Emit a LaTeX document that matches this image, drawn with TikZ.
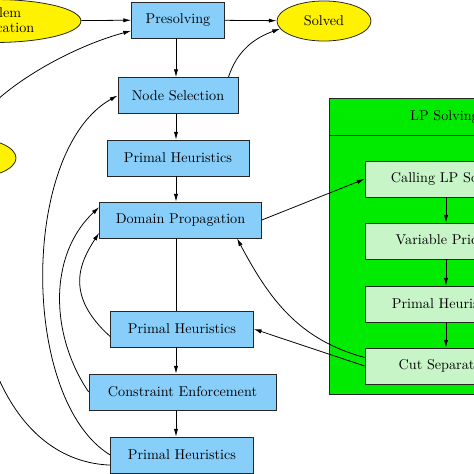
\documentclass[tikz,border=0pt]{standalone}
\usepackage{tikz}
\usetikzlibrary{arrows.meta,shapes.geometric}

\definecolor{boxblue}{RGB}{135,206,250}
\definecolor{lpgreen}{RGB}{0,235,0}
\definecolor{lplight}{RGB}{200,245,200}

\tikzset{
	block/.style={rectangle,draw=black!85,fill=boxblue,line width=0.55pt,minimum height=25.3pt,inner sep=2pt},
	lpblock/.style={rectangle,draw=black!85,fill=lplight,line width=0.55pt,minimum height=25.3pt,minimum width=114pt,inner sep=2pt},
	oval/.style={ellipse,draw=black!85,fill=yellow,line width=0.55pt,minimum width=66.2pt,minimum height=28.2pt,inner sep=1pt},
	flow/.style={-{Latex[length=5.5pt,width=3pt]},line width=0.55pt}
}

\begin{document}
\begin{tikzpicture}[x=0.704pt,y=0.704pt]
			\path [use as bounding box,fill=white] (0,0) rectangle (474,-474);
			\clip (0,0) rectangle (474,-474);
			
			% LP solving frame
			\draw [fill=lpgreen,draw=black!85,line width=0.55pt] (329,-98) rectangle (560,-394);
			\draw [black!85,line width=0.55pt] (329,-135) -- (560,-135);
			\node (lptitle) at (444.5,-117) {LP Solving};
			
			\begin{scope}[every node/.style={oval}]
				\node [minimum width=121pt,minimum height=29.6pt,align=center] (spec) at (-5,-21) {Problem\\[-1.5pt]Specification};
				\node (solved) at (324,-21) {Solved};
				\node (restart) at (-31,-158) {};
			\end{scope}
			
			\begin{scope}[every node/.style={block}]
				\node [minimum width=65.5pt] (pres) at (178,-20) {Presolving};
				\node [minimum width=84.5pt] (sel) at (178,-95.5) {Node Selection};
				\node [minimum width=100pt] (heur1) at (178,-158) {Primal Heuristics};
				\node [minimum width=114pt] (prop) at (180.5,-220) {Domain Propagation};
				\node [minimum width=100.5pt] (heur2) at (182,-329) {Primal Heuristics};
				\node [minimum width=131.6pt] (enf) at (182.5,-392) {Constraint Enforcement};
				\node [minimum width=100.5pt] (heur3) at (182,-455) {Primal Heuristics};
			\end{scope}
			
			\begin{scope}[every node/.style={lpblock}]
				\node (lpcall) at (446,-179) {Calling LP Solver};
				\node (pricing) at (446,-241) {Variable Pricing};
				\node (lpheur) at (446,-304) {Primal Heuristics};
				\node (cutsep) at (446,-366) {Cut Separation};
			\end{scope}
			
			\coordinate (axis) at (176,0);
			
			% main column
			\begin{scope}[every edge/.style={draw=black,flow}]
				\path (spec) edge (pres);
				\path (pres) edge (solved);
				\path (pres.south -| axis) edge (sel.north -| axis);
				\path (sel.south -| axis) edge (heur1.north -| axis);
				\path (heur1.south -| axis) edge (prop.north -| axis);
				\path (heur2.south -| axis) edge (enf.north -| axis);
				\path (enf.south -| axis) edge (heur3.north -| axis);
				\path (sel.20) edge [out=72,in=200] (solved.190);
				\path (prop.east) edge (lpcall.west);
				\path (cutsep.west) edge (heur2.east);
				\path (cutsep.174) edge [out=165,in=-62] (prop.-18);
			\end{scope}
			\draw [line width=0.55pt] (prop.south -| axis) -- (heur2.north -| axis);
			
			% LP loop
			\begin{scope}[every edge/.style={draw=black,flow}]
				\path (lpcall) edge (pricing);
				\path (pricing) edge (lpheur);
				\path (lpheur) edge (cutsep);
			\end{scope}
			
			% loops back on the left
			\draw [flow] (heur3.west) .. controls (20,-400) and (20,-150) .. (sel.west);
			\draw [flow] (enf.west) .. controls (50,-335) and (48,-255) .. (prop.171);
			\draw [flow] (heur2.186) .. controls (64,-295) and (80,-262) .. (prop.189);
			\draw [flow] (heur3.188) .. controls (30,-462) and (-35,-380) .. (restart.south);
			\draw [flow] (restart.north) .. controls (-20,-100) and (60,-50) .. (pres.193);
		\end{tikzpicture}
\end{document}
